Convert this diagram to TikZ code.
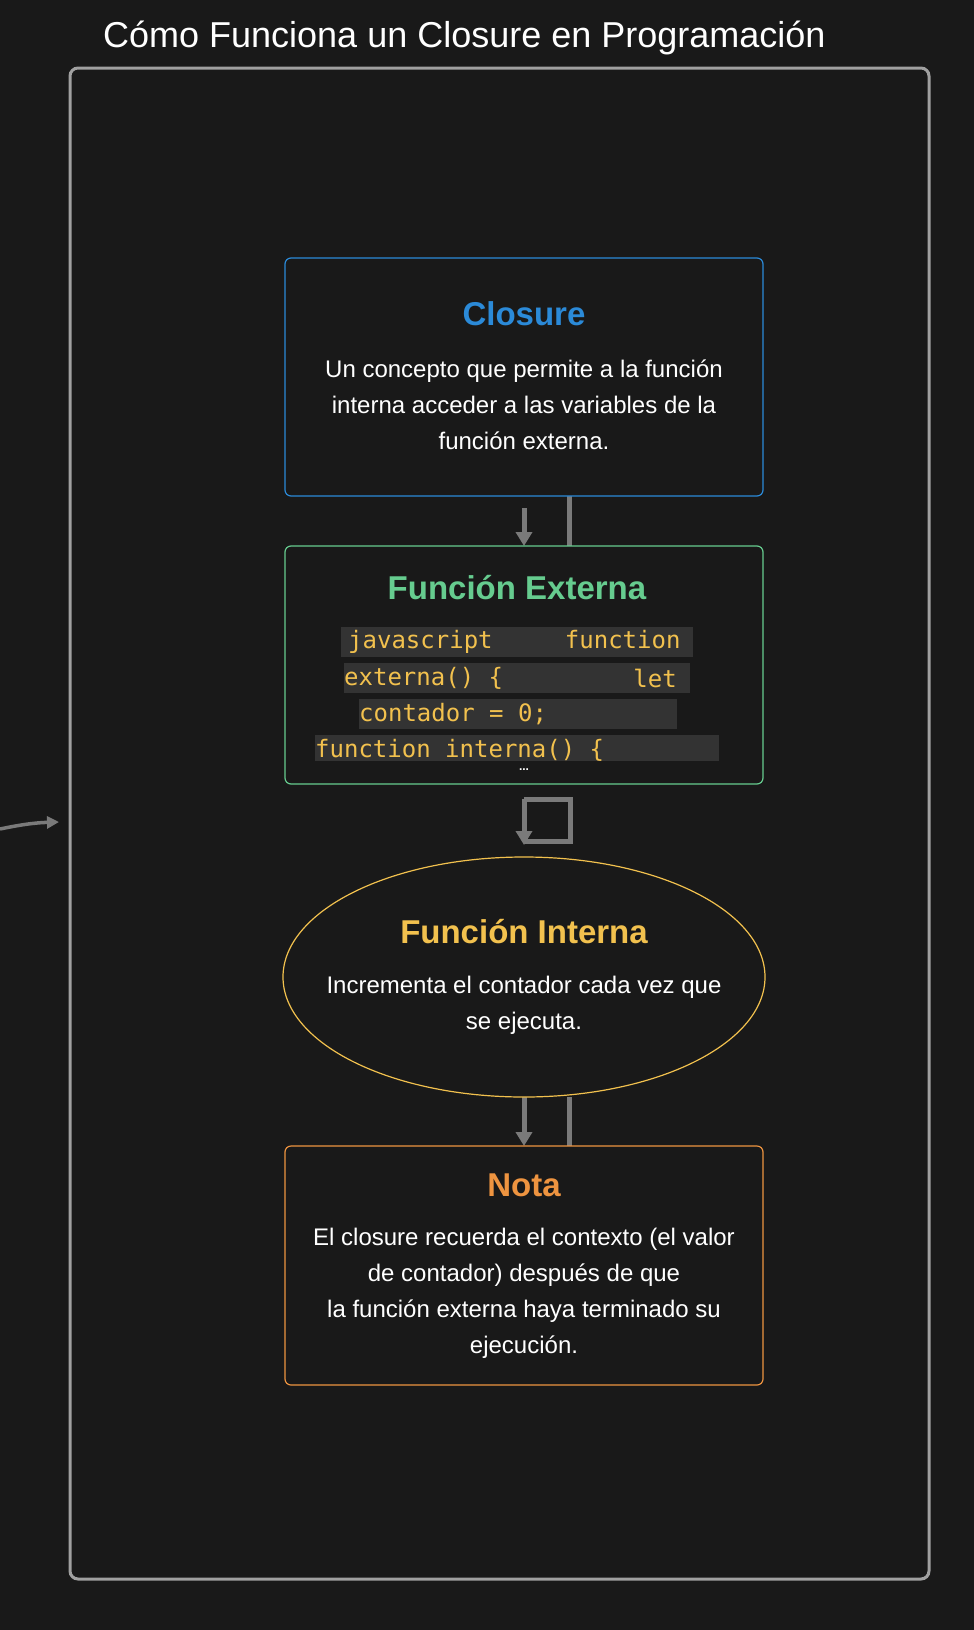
\documentclass[tikz,border=0pt]{standalone}
\usepackage{fontspec}
\setmainfont{Liberation Sans}
\newfontfamily\codefont{DejaVu Sans Mono}
\usetikzlibrary{arrows.meta}
\definecolor{bg}{HTML}{191919}
\definecolor{frame}{HTML}{A0A0A0}
\definecolor{cblue}{HTML}{2B8AD8}
\definecolor{cgreen}{HTML}{66CC8F}
\definecolor{cyel}{HTML}{F2C14E}
\definecolor{corange}{HTML}{EE9440}
\definecolor{codebg}{HTML}{333333}
\definecolor{conn}{HTML}{7A7A7A}
\tikzset{
 box/.style={draw, line width=1.2pt, rounded corners=6pt, fill=bg},
 ttl/.style={font=\fontsize{33}{38}\selectfont\bfseries},
 body/.style={text=white, font=\fontsize{24}{36}\selectfont, align=center},
 code/.style={fill=codebg, text=cyel, font=\codefont\fontsize{24}{28}\selectfont, inner sep=0pt, anchor=west, minimum height=30pt},
 conn/.style={draw=conn, line width=5pt},
 arr/.style={conn, -{Triangle[length=14pt,width=16pt]}}
}
\begin{document}
\begin{tikzpicture}[x=1pt,y=-1pt]
\fill[bg] (0,0) rectangle (974,1630);
\useasboundingbox (0,0) rectangle (974,1630);
\node[text=white, font=\fontsize{36}{40}\selectfont, anchor=west, inner sep=0pt] (title) at (103,38) {Cómo Funciona un Closure en Programación};
\draw[frame, line width=3pt, rounded corners=8pt] (70,68) rectangle (929,1579);
% connectors
\coordinate (c1a) at (524,508); \coordinate (c1b) at (524,546);
\draw[arr] (c1a) -- (c1b);
\draw[conn] (569,496) -- (569,546);
\draw[conn] (524,799) -- (570,799) -- (570,841) -- (524,841);
\draw[arr] (524,799) -- (524,845);
\draw[arr] (524,1067) -- (524,1146);
\draw[conn] (569,1097) -- (569,1146);
\draw[conn, -{Triangle[length=12pt,width=12pt]}, line width=3.5pt] (0,829) to[bend left=5] (59,822);
% Closure
\draw[box, draw=cblue] (285,258) rectangle (763,496);
\node[ttl, text=cblue] (clt) at (524,314) {Closure};
\node[body] (clb) at (524,405) {Un concepto que permite a la función\\interna acceder a las variables de la\\función externa.};
% Externa
\draw[box, draw=cgreen] (285,546) rectangle (763,784);
\node[ttl, text=cgreen] (ext) at (517,588) {Función Externa};
\node[code, minimum width=352pt] (l1) at (341,642) {};
\node[code, anchor=west] at (348,642) {javascript\ \ \ \ \ function};
\node[code, minimum width=346pt] (l2) at (344,678) {};
\node[code] at (344,678) {externa() \{};
\node[code, anchor=east] at (677,678) {let};
\node[code, minimum width=318pt] (l3) at (359,714) {};
\node[code] at (359,714) {contador = 0;};
\begin{scope}
\clip (300,730) rectangle (740,760);
\node[code, minimum width=404pt] (l4) at (315,750) {};
\node[code, minimum height=0pt, fill=none] at (315,750) {function interna() \{};
\end{scope}
\node[text=white, font=\fontsize{12}{12}\selectfont\bfseries, inner sep=0pt] (dots) at (524,770) {...};
% Interna
\draw[line width=1.2pt, cyel, fill=bg] (524,977) ellipse [x radius=241, y radius=120];
\node[ttl, text=cyel] (int) at (524,932) {Función Interna};
\node[body] (intb) at (524,1005) {Incrementa el contador cada vez que\\se ejecuta.};
% Nota
\draw[box, draw=corange] (285,1146) rectangle (763,1385);
\node[ttl, text=corange] (nt) at (524,1185) {Nota};
\node[body] (ntb) at (524,1293) {El closure recuerda el contexto (el valor\\de contador) después de que\\la función externa haya terminado su\\ejecución.};
\end{tikzpicture}
\end{document}
